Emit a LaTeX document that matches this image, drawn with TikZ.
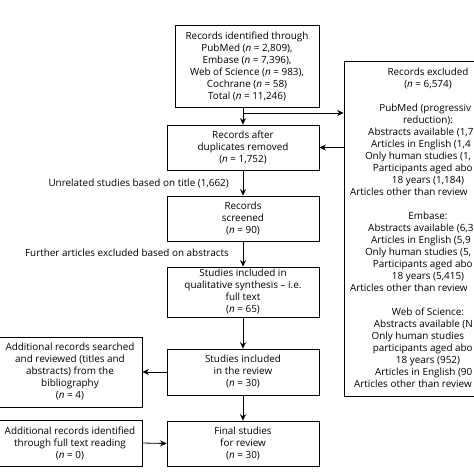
\documentclass[tikz,border=0pt]{standalone}
\usepackage{fontspec}
\setmainfont{Open Sans}
\usetikzlibrary{arrows.meta}
\tikzset{
  box/.style={draw, line width=0.8pt, align=center, inner sep=0pt,
    font=\fontsize{9.9}{12}\selectfont},
  lab/.style={anchor=base east, inner sep=0pt, font=\fontsize{9.9}{12}\selectfont},
  arr/.style={-{Stealth[length=6.5pt,width=6pt]}, line width=0.8pt},
}
\newcommand{\nn}{\textit{n}}
\begin{document}
\begin{tikzpicture}[x=1pt,y=-1pt]
\useasboundingbox (0,0) rectangle (474,474);
\fill[white] (0,0) rectangle (474,474);
\clip (0,0) rectangle (474,474);
% main column
\node[box, minimum width=144pt, minimum height=82pt] (top) at (247,66)
  {Records identified through\\PubMed (\nn{} = 2,809),\\Embase (\nn{} = 7,396),\\Web of Science (\nn{} = 983),\\Cochrane (\nn{} = 58)\\Total (\nn{} = 11,246)};
\node[box, minimum width=152pt, minimum height=45pt] (b2) at (243,147.5)
  {Records after\\duplicates removed\\(\nn{} = 1,752)};
\node[box, minimum width=152pt, minimum height=45pt] (b3) at (243,218.5)
  {Records\\screened\\(\nn{} = 90)};
\node[box, minimum width=152pt, minimum height=50pt] (b4) at (243,292)
  {Studies included in\\qualitative synthesis -- i.e.\\full text\\(\nn{} = 65)};
\node[box, minimum width=152pt, minimum height=46pt] (b5) at (243,372)
  {Studies included\\in the review\\(\nn{} = 30)};
\node[box, minimum width=152pt, minimum height=45pt] (b6) at (243,443.5)
  {Final studies\\for review\\(\nn{} = 30)};
% left column
\node[box, minimum width=144pt, minimum height=70pt] (l1) at (70,372)
  {Additional records searched\\and reviewed (titles and\\abstracts) from the\\bibliography\\(\nn{} = 4)};
\node[box, minimum width=144pt, minimum height=46pt] (l2) at (70,443)
  {Additional records identified\\through full text reading\\(\nn{} = 0)};
% right box
\node[box, minimum width=168pt, minimum height=335pt] (rb) at (428,228.5)
  {Records excluded\\(\nn{} = 6,574)\\[12pt]
   PubMed (progressiv\phantom{e}\\reduction):\\
   Abstracts available (1,7\phantom{00)}\\
   Articles in English (1,4\phantom{00)}\\
   Only human studies (1,\phantom{000)}\\
   Participants aged abo\phantom{ve}\\18 years (1,184)\\
   Articles other than review\phantom{s (1,000)}\\[12pt]
   Embase:\\
   Abstracts available (6,3\phantom{00)}\\
   Articles in English (5,9\phantom{00)}\\
   Only human studies (5,\phantom{000)}\\
   Participants aged abo\phantom{ve}\\18 years (5,415)\\
   Articles other than review\phantom{s (5,000)}\\[12pt]
   Web of Science:\\
   Abstracts available (N\phantom{A)}\\
   Only human studies\phantom{ and}\\
   participants aged abo\phantom{ve}\\18 years (952)\\
   Articles in English (90\phantom{0)}\\
   Articles other than review\phantom{s (900)}};
% labels
\node[lab] (t1) at (229,186) {Unrelated studies based on title (1,662)};
\node[lab] (t2) at (229,256) {Further articles excluded based on abstracts};
% connectors
\coordinate (j) at (243,113);
\draw[arr] (b2.north |- top.south) -- (b2.north);
\draw[arr] (j) -- (j -| rb.west);
\draw[arr] (b2.east -| rb.west) -- (b2.east);
\draw[arr] (b2) -- (b3);
\draw[arr] (b3) -- (b4);
\draw[arr] (b4) -- (b5);
\draw[arr] (b5) -- (b6);
\draw[arr] (b5.west) -- (l1.east);
\draw[arr] (l2.east) -- (b6.west);
\end{tikzpicture}
\end{document}
